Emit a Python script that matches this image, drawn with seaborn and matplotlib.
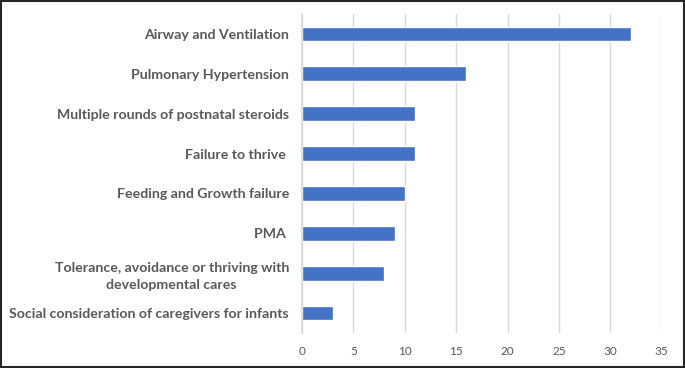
import matplotlib
matplotlib.use('Agg')
import matplotlib.pyplot as plt
import seaborn as sns
import pandas as pd

# data
categories = [
    'Airway and Ventilation',
    'Pulmonary Hypertension',
    'Multiple rounds of postnatal steroids',
    'Failure to thrive ',
    'Feeding and Growth failure',
    'PMA ',
    'Tolerance, avoidance or thriving with\ndevelopmental cares',
    'Social consideration of caregivers for infants',
]
counts = [32, 16, 11, 11, 10, 9, 8, 3]
x_ticks = [0, 5, 10, 15, 20, 25, 30, 35]

df = pd.DataFrame({'category': categories, 'count': counts})

sns.set_theme(style='white')
plt.rcParams['font.family'] = ['Lato', 'DejaVu Sans']

fig = plt.figure(figsize=(6.85, 3.68), dpi=100)
ax = fig.add_axes([0.441, 0.095, 0.525, 0.867])

sns.barplot(data=df, x='count', y='category', color='#4472C4',
            width=0.37, saturation=1, ax=ax)

ax.set_xlim(0, 35)
ax.set_xticks(x_ticks)
ax.xaxis.grid(True, color='#D9D9D9', linewidth=1)
ax.set_axisbelow(True)
for s in ['top', 'right', 'bottom']:
    ax.spines[s].set_visible(False)
ax.spines['left'].set_color('#D9D9D9')
ax.set_xlabel('')
ax.set_ylabel('')
ax.tick_params(axis='x', colors='#595959', labelsize=8.5, length=0, pad=9)
ax.tick_params(axis='y', length=0, pad=9.5)
for lbl in ax.get_yticklabels():
    lbl.set_fontweight('bold')
    lbl.set_fontsize(10.2)
    lbl.set_color('#595959')
    lbl.set_multialignment('center')
    lbl.set_linespacing(1.45)

# frame around the whole figure
fig.patches.append(plt.Rectangle((0.002, 0.003), 0.996, 0.994, transform=fig.transFigure,
                                 fill=False, edgecolor='#262626', linewidth=1.5))

plt.savefig('out.png', dpi=100)
